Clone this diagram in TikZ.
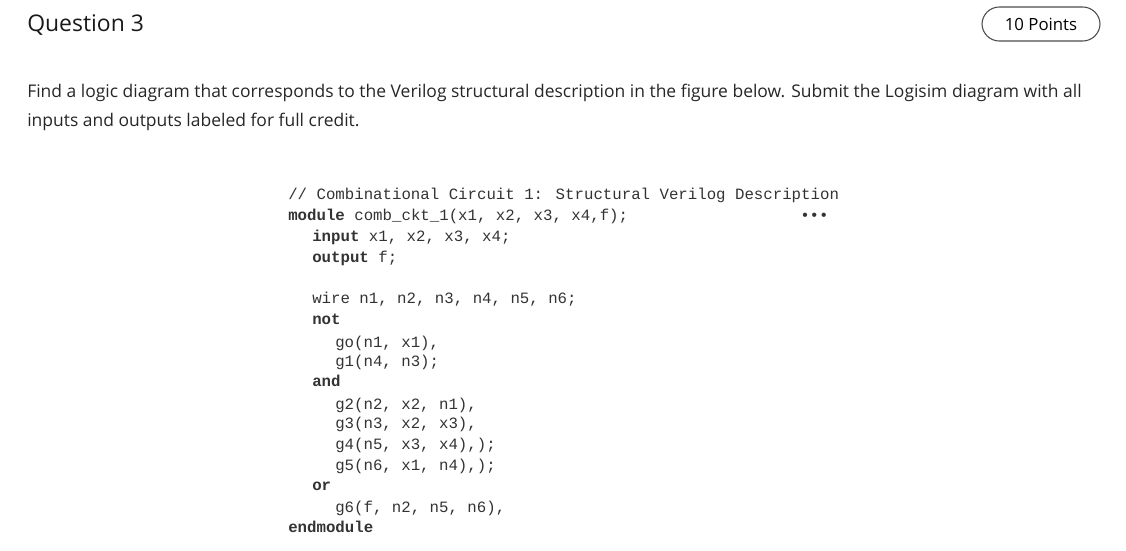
\documentclass[tikz,border=0pt]{standalone}
\usepackage{fontspec}
\setmainfont{Open Sans}
\newfontfamily\codefont{Liberation Mono}
\begin{document}
\begin{tikzpicture}[x=0.75pt,y=-0.75pt,
  code/.style={anchor=base west,inner sep=0pt,font=\codefont\fontsize{11.8}{12}\selectfont,text=black!80},
  body/.style={anchor=base west,inner sep=0pt,font=\fontsize{13.1}{14}\selectfont,text=black!85}]
\useasboundingbox (0,0) rectangle (1126,550);
\node[anchor=base west,inner sep=0pt,font=\fontsize{17.2}{18}\selectfont,text=black!90] (q) at (27,31) {Question 3};
\node[draw=black!70,rounded corners=13pt,minimum width=88.5pt,minimum height=25.5pt,line width=0.8pt,font=\fontsize{12.6}{14}\selectfont] (pts) at (1041,24) {10 Points};
\node[body] (t1) at (27,97) {Find a logic diagram that corresponds to the Verilog structural description in the figure below. Submit the Logisim diagram with all};
\node[body] (t2) at (27,126) {inputs and outputs labeled for full credit.};
\node[code] (c1) at (288,199) {// Combinational Circuit 1: Structural Verilog Description};
\node[code] (c2) at (288,220) {\textbf{module} comb\_ckt\_1(x1, x2, x3, x4,f);};
\node[code] (dots) at (800,220) {\textbullet\textbullet\textbullet};
\node[code] (c3) at (312,241) {\textbf{input} x1, x2, x3, x4;};
\node[code] (c4) at (312,262) {\textbf{output} f;};
\node[code] (c5) at (312,303) {wire n1, n2, n3, n4, n5, n6;};
\node[code] (c6) at (312,324) {\textbf{not}};
\node[code] (c7) at (335,347) {go(n1, x1),};
\node[code] (c8) at (335,366) {g1(n4, n3);};
\node[code] (c9) at (312,386) {\textbf{and}};
\node[code] (c10) at (335,409) {g2(n2, x2, n1),};
\node[code] (c11) at (335,428) {g3(n3, x2, x3),};
\node[code] (c12) at (335,449) {g4(n5, x3, x4),);};
\node[code] (c13) at (335,470) {g5(n6, x1, n4),);};
\node[code] (c14) at (312,490) {\textbf{or}};
\node[code] (c15) at (335,512) {g6(f, n2, n5, n6),};
\node[code] (c16) at (288,532) {\textbf{endmodule}};
\end{tikzpicture}
\end{document}
